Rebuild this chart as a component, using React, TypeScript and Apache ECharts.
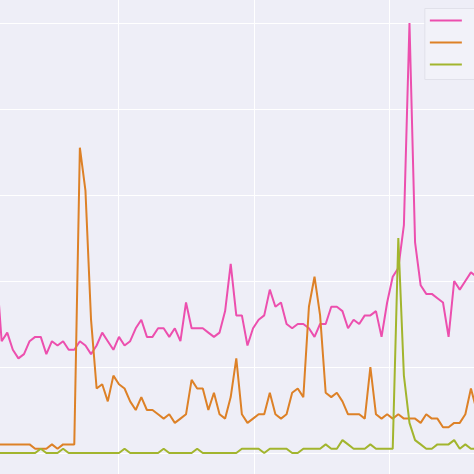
import React, { useEffect, useRef } from "react";
import * as echarts from "echarts";

// x positions are consecutive periods; index of the first value
const firstIndex = -1;

const pinkValues = [
  44,
  26, 28, 24, 22, 23, 26, 27, 27, 23, 26,
  25, 26, 24, 24, 26, 25, 23, 25, 28, 26,
  24, 27, 25, 26, 29, 31, 27, 27, 29, 29,
  27, 29, 26, 35, 29, 29, 29, 28, 27, 28,
  33, 44, 32, 32, 25, 29, 31, 32, 38, 34,
  35, 30, 29, 30, 30, 29, 27, 30, 30, 34,
  34, 33, 29, 31, 30, 32, 32, 33, 27, 35,
  41, 43, 53, 100, 49, 39, 37, 37, 36, 35,
  27, 40, 38, 40, 42, 41,
];

const orangeValues = [
  2,
  2, 2, 2, 2, 2, 2, 1, 1, 1, 2,
  1, 2, 2, 2, 71, 61, 31, 15, 16, 12,
  18, 16, 15, 12, 10, 13, 10, 10, 9, 8,
  9, 7, 8, 9, 17, 15, 15, 10, 14, 9,
  8, 13, 22, 9, 7, 8, 9, 9, 14, 9,
  8, 9, 14, 15, 13, 34, 41, 32, 14, 13,
  14, 12, 9, 9, 9, 8, 20, 9, 8, 9,
  8, 9, 8, 8, 8, 7, 9, 8, 8, 6,
  6, 7, 7, 9, 15, 10,
];

const greenValues = [
  0,
  0, 0, 0, 0, 0, 0, 0, 1, 0, 0,
  0, 1, 0, 0, 0, 0, 0, 0, 0, 0,
  0, 0, 1, 0, 0, 0, 0, 0, 0, 1,
  0, 0, 0, 0, 0, 1, 0, 0, 0, 0,
  0, 0, 0, 1, 1, 1, 1, 0, 1, 1,
  1, 1, 0, 0, 1, 1, 1, 1, 2, 1,
  1, 3, 2, 1, 1, 1, 2, 1, 1, 1,
  1, 50, 18, 7, 3, 2, 1, 1, 2, 2,
  2, 3, 1, 2, 1, 1,
];

const seriesColors = ["#EC4FAE", "#DD8127", "#A2B52E"];
const BG = "#EEEEF7";

// The chart div is larger than the window and shifted, so the plot area is cropped like the reference.
const OFFSET_X = 16.85;
const OFFSET_Y = 63.5;
const CHART_W = 490.85;
const CHART_H = 602;

const toPairs = (arr: number[]) => arr.map((v, k) => [firstIndex + k, v]);

export default function App() {
  const ref = useRef<HTMLDivElement>(null);

  useEffect(() => {
    if (!ref.current) return;
    const chart = echarts.init(ref.current, null, { renderer: "svg" });

    const legendLine = (py: number, color: string) => ({
      type: "line",
      shape: { x1: 430 + OFFSET_X, y1: py + OFFSET_Y, x2: 462 + OFFSET_X, y2: py + OFFSET_Y },
      style: { stroke: color, lineWidth: 2 },
      z: 101,
    });

    chart.setOption({
      animation: false,
      backgroundColor: BG,
      grid: { left: 0, right: 0, top: 0, bottom: 0, containLabel: false },
      xAxis: [
        {
          type: "value",
          min: -3.339,
          max: 84.548,
          axisLine: { show: false },
          axisTick: { show: false },
          axisLabel: { show: false },
          splitLine: { show: false },
        },
        {
          type: "value",
          min: 0,
          max: 3.6239,
          interval: 1,
          axisLine: { show: false },
          axisTick: { show: false },
          axisLabel: { show: false },
          splitLine: { show: true, lineStyle: { color: "#FFFFFF", width: 1 } },
        },
      ],
      yAxis: {
        type: "value",
        min: -20,
        max: 120,
        interval: 20,
        axisLine: { show: false },
        axisTick: { show: false },
        axisLabel: { show: false },
        splitLine: { show: true, lineStyle: { color: "#FFFFFF", width: 1 } },
      },
      series: [pinkValues, orangeValues, greenValues].map((vals, k) => ({
        type: "line",
        xAxisIndex: 0,
        data: toPairs(vals),
        showSymbol: false,
        silent: true,
        lineStyle: { color: seriesColors[k], width: 2 },
        itemStyle: { color: seriesColors[k] },
      })),
      graphic: [
        {
          type: "rect",
          shape: { x: 425 + OFFSET_X, y: 8 + OFFSET_Y, width: 70, height: 71 },
          style: { fill: "#F2F2F9", stroke: "#E1E1EA", lineWidth: 1 },
          z: 100,
        },
        legendLine(20, seriesColors[0]),
        legendLine(42, seriesColors[1]),
        legendLine(64, seriesColors[2]),
      ],
    });

    return () => chart.dispose();
  }, []);

  return (
    <div
      style={{
        position: "fixed",
        left: 0,
        top: 0,
        width: 474,
        height: 474,
        overflow: "hidden",
        background: BG,
      }}
    >
      <div
        ref={ref}
        style={{
          position: "absolute",
          left: -OFFSET_X,
          top: -OFFSET_Y,
          width: CHART_W,
          height: CHART_H,
        }}
      />
    </div>
  );
}
